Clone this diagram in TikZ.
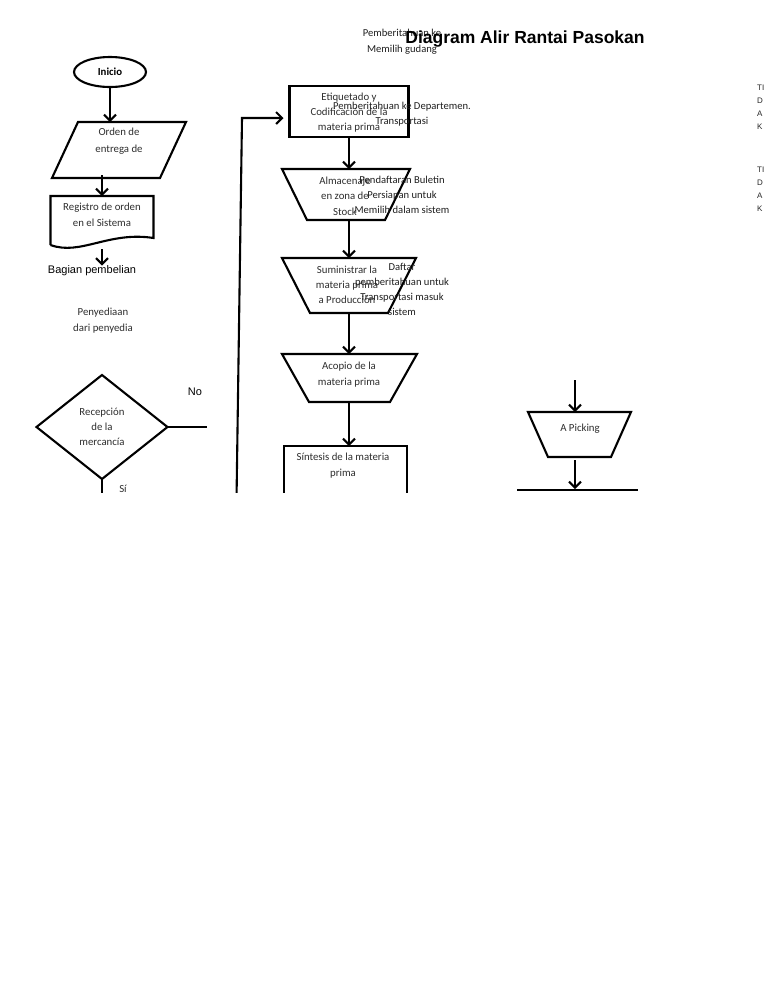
\documentclass[tikz,border=0pt]{standalone}
\usepackage{fontspec}
\setmainfont{Carlito}
\newfontfamily\arialf{Liberation Sans}
\usetikzlibrary{shapes.geometric,arrows.meta,calc}
\begin{document}
\begin{tikzpicture}[x=1pt,y=-1pt,
  shp/.style={draw=black, line width=2.1pt, inner sep=0pt, outer sep=0pt},
  ghost/.style={inner sep=0pt, outer sep=0pt},
  txt/.style={align=center, inner sep=0pt, text=black!82, font=\fontsize{10.8}{15.5}\selectfont},
  arr/.style={line width=2.1pt, -{Straight Barb[length=6pt,width=12pt]}},
  ln/.style={line width=2.1pt, line join=miter},
  ar/.style={font=\arialf\fontsize{11}{13}\selectfont, inner sep=0pt},
  arsm/.style={font=\arialf\fontsize{8}{13}\selectfont, inner sep=0pt, align=left, text=black!85},
  ovl/.style={align=center, inner sep=0pt, text=black!88, font=\fontsize{10.6}{15}\selectfont},
]
\useasboundingbox (0,0) rectangle (768,994);
\fill[white] (0,0) rectangle (768,994);
\begin{scope}
\clip (0,0) rectangle (768,492);

% left column
\node[shp, ellipse, minimum width=72, minimum height=30, font=\bfseries\fontsize{10.8}{12}\selectfont] (inicio) at (110,72) {Inicio};

\node[ghost, minimum width=134, minimum height=56] (orden) at (119,150) {};
\draw[ln] ($(orden.north west)+(26,0)$) -- (orden.north east) -- ($(orden.south east)+(-26,0)$) -- (orden.south west) -- cycle;
\node[txt, font=\fontsize{10.8}{17}\selectfont] (ordent) at (119,141.5) {Orden de\\entrega de};
\draw[arr] (inicio.south) -- (inicio.south |- orden.north);

\node[ghost, minimum width=103, minimum height=49] (registro) at (102,220.5) {};
\draw[ln] (registro.south west) -- (registro.north west) -- (registro.north east) -- ($(registro.south east)+(0,-7)$)
  .. controls ($(registro.south east)+(-45,-14)$) and ($(registro.south west)+(30,11)$) .. (registro.south west);
\node[txt, font=\fontsize{10.8}{16}\selectfont] (registrot) at (102,215) {Registro de orden\\en el Sistema};
\draw[arr] ($(registro.north |- orden.south)+(0,-3)$) -- (registro.north);

\node[ar] (bagian) at (92,271) {Bagian pembelian};
\draw[arr] ($(registro.south)+(0,4)$) -- (registro.south |- bagian.north);

\node[txt, font=\fontsize{10.8}{16}\selectfont] (peny) at (103,321) {Penyediaan\\dari penyedia};

\node[ghost, minimum width=131, minimum height=104] (recep) at (102,427) {};
\draw[ln] (recep.north) -- (recep.east) -- (recep.south) -- (recep.west) -- cycle;
\node[txt, font=\fontsize{10.8}{15}\selectfont] (recept) at (102,427) {Recepción\\de la\\mercancía};
\coordinate (nofree) at (207,427);
\draw[ln] (recep.east) -- (nofree);
\node[ar] (nolab) at (195,392) {No};
\coordinate (sifree) at (102,500);
\draw[ln] (recep.south) -- (sifree);
\node[txt] (silab) at (123,489) {Sí};

% middle column
\node[shp, minimum width=119, minimum height=51] (etiq) at (349,111.5) {};
\node[txt, font=\fontsize{10.8}{15}\selectfont] (etiqt) at (349,113) {Etiquetado y\\Codificación de la\\materia prima};

\coordinate (loopstart) at (236.5,500);
\coordinate (loopcorner) at (242,118);
\draw[arr, shorten >=6pt] (loopstart) -- (loopcorner) -- (loopcorner -| etiq.west);

\node[ghost, minimum width=128, minimum height=51] (t1) at (346,194.5) {};
\draw[ln] (t1.north west) -- (t1.north east) -- ($(t1.south east)+(-25,0)$) -- ($(t1.south west)+(25,0)$) -- cycle;
\node[txt, font=\fontsize{10.8}{15.5}\selectfont] (t1t) at (345,196) {Almacenaje\\en zona de\\Stock};

\node[ghost, minimum width=134, minimum height=55] (t2) at (349,285.5) {};
\draw[ln] (t2.north west) -- (t2.north east) -- ($(t2.south east)+(-28,0)$) -- ($(t2.south west)+(28,0)$) -- cycle;
\node[txt, font=\fontsize{10.8}{15}\selectfont] (t2t) at (347,285) {Suministrar la\\materia prima\\a Producción};

\node[ghost, minimum width=135, minimum height=48] (t3) at (349.5,378) {};
\draw[ln] (t3.north west) -- (t3.north east) -- ($(t3.south east)+(-27,0)$) -- ($(t3.south west)+(27,0)$) -- cycle;
\node[txt, font=\fontsize{10.8}{16}\selectfont] (t3t) at (349,375) {Acopio de la\\materia prima};

\node[shp, minimum width=123, minimum height=70] (sint) at (345.5,481) {};
\node[txt, font=\fontsize{10.8}{16}\selectfont] (sintt) at (343,466) {Síntesis de la materia\\prima};

\coordinate (midx) at (349,0);
\draw[arr] (etiq.south) -- (midx |- t1.north);
\draw[arr] (midx |- t1.south) -- (midx |- t2.north);
\draw[arr] (midx |- t2.south) -- (midx |- t3.north);
\draw[arr] (midx |- t3.south) -- (midx |- sint.north);

% overlapping texts
\node[ovl, font=\fontsize{10.6}{16}\selectfont] (ov0) at (402,42) {Pemberitahuan ke\\Memilih gudang};
\node[ovl] (ov1) at (402,114.5) {Pemberitahuan ke Departemen.\\Transportasi};
\node[ovl] (ov2) at (402,195) {Pendaftaran Buletin\\Persiapan untuk\\Memilih dalam sistem};
\node[ovl] (ov3) at (402,289.5) {Daftar\\pemberitahuan untuk\\Transportasi masuk\\sistem};

% title
\node[inner sep=0pt, font=\arialf\bfseries\fontsize{17.5}{19}\selectfont] (title) at (525,39) {Diagram Alir Rantai Pasokan};

% right column
\node[ghost, minimum width=103, minimum height=45] (pick) at (579.5,434.5) {};
\draw[ln] (pick.north west) -- (pick.north east) -- ($(pick.south east)+(-20,0)$) -- ($(pick.south west)+(20,0)$) -- cycle;
\node[txt] (pickt) at (580,429) {A Picking};
\coordinate (pickin) at (575,380);
\draw[arr] (pickin) -- (pickin |- pick.north);
\coordinate (pickbar) at (575,489);
\draw[arr] ($(pickin |- pick.south)+(0,3)$) -- (pickbar);
\coordinate (barL) at (517,490);
\coordinate (barR) at (638,490);
\draw[ln] (barL) -- (barR);

% far right
\node[arsm, anchor=west] (tidak1) at (757,107.5) {TI\\D\\A\\K};
\node[arsm, anchor=west] (tidak2) at (757,189.5) {TI\\D\\A\\K};
\end{scope}
\end{tikzpicture}
\end{document}
